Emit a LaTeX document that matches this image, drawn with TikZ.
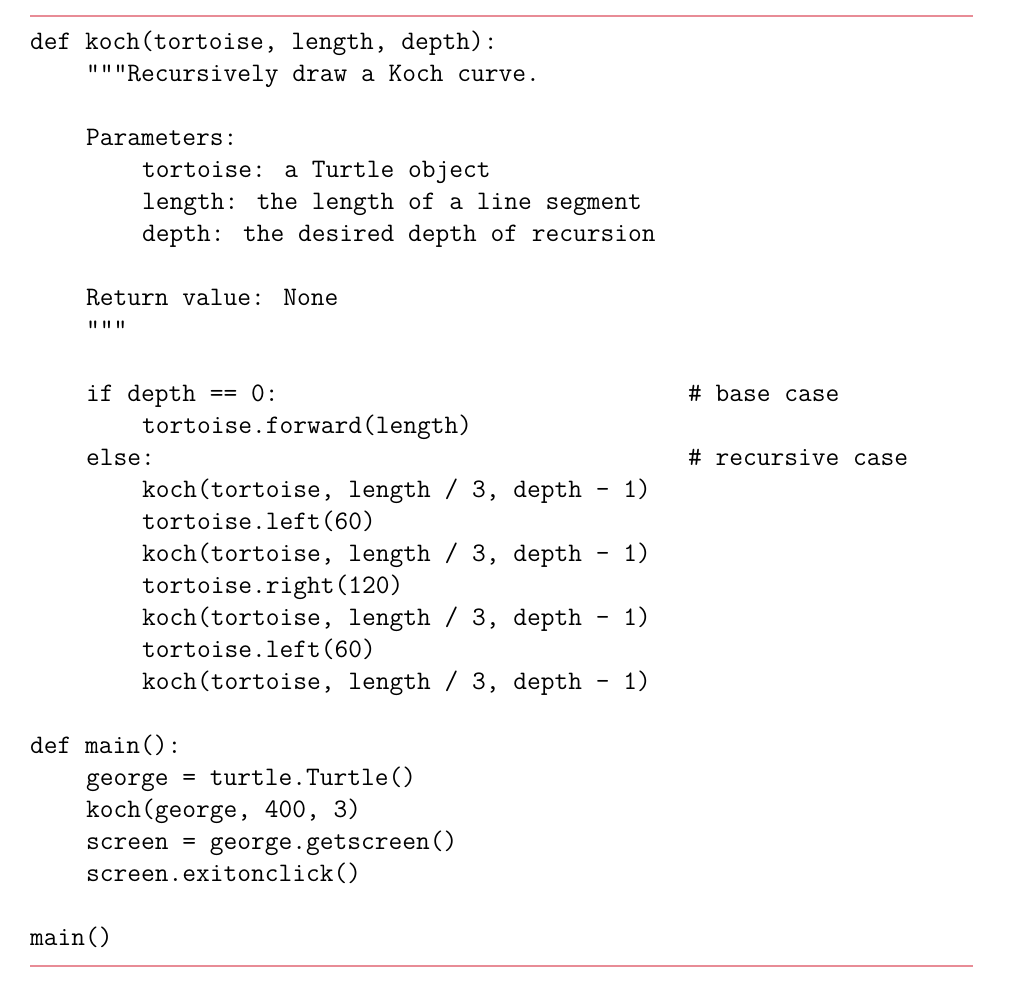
\documentclass[tikz,border=0pt]{standalone}
\usepackage{fontspec}
\definecolor{rulec}{RGB}{232,140,150}
\begin{document}
\begin{tikzpicture}[x=1pt,y=-1pt,
  code/.style={anchor=base west,inner sep=0pt,font=\fontsize{26.7}{32}\ttfamily}]
\useasboundingbox (0,0) rectangle (1024,986);
\draw[rulec,line width=1.2pt] (30,16) coordinate (r1a) -- (973,16) coordinate (r1b);
\draw[rulec,line width=1.2pt] (30,966) coordinate (r2a) -- (973,966) coordinate (r2b);
\def\ln#1#2#3#4{\node[code] (#1) at ({30+14*#2},{49+32*#3}) {#4};}
\ln{a0}{0}{0}{def koch(tortoise, length, depth):}
\ln{a1}{4}{1}{"""Recursively draw a Koch curve.}
\ln{a3}{4}{3}{Parameters:}
\ln{a4}{8}{4}{tortoise: a Turtle object}
\ln{a5}{8}{5}{length: the length of a line segment}
\ln{a6}{8}{6}{depth: the desired depth of recursion}
\ln{a8}{4}{8}{Return value: None}
\ln{a9}{4}{9}{"""}
\ln{a11}{4}{11}{if depth == 0:}
\ln{c11}{47}{11}{\# base case}
\ln{a12}{8}{12}{tortoise.forward(length)}
\ln{a13}{4}{13}{else:}
\ln{c13}{47}{13}{\# recursive case}
\ln{a14}{8}{14}{koch(tortoise, length / 3, depth - 1)}
\ln{a15}{8}{15}{tortoise.left(60)}
\ln{a16}{8}{16}{koch(tortoise, length / 3, depth - 1)}
\ln{a17}{8}{17}{tortoise.right(120)}
\ln{a18}{8}{18}{koch(tortoise, length / 3, depth - 1)}
\ln{a19}{8}{19}{tortoise.left(60)}
\ln{a20}{8}{20}{koch(tortoise, length / 3, depth - 1)}
\ln{a22}{0}{22}{def main():}
\ln{a23}{4}{23}{george = turtle.Turtle()}
\ln{a24}{4}{24}{koch(george, 400, 3)}
\ln{a25}{4}{25}{screen = george.getscreen()}
\ln{a26}{4}{26}{screen.exitonclick()}
\ln{a28}{0}{28}{main()}
\end{tikzpicture}
\end{document}
